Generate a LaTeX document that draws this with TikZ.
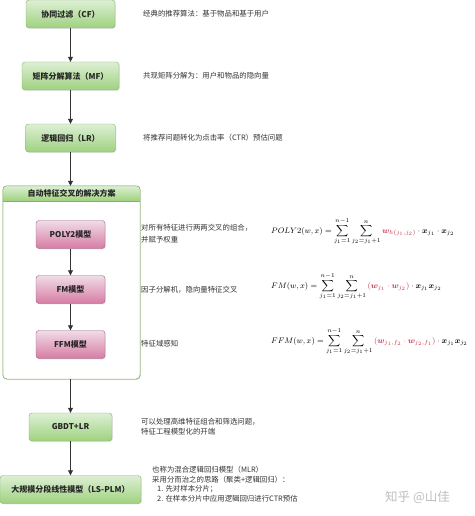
\documentclass[tikz,border=0pt]{standalone}
\usepackage{fontspec}
\usepackage{amsmath,bm}
\newfontfamily\cjk{Noto Sans CJK SC}
\usetikzlibrary{arrows.meta,shadows}
\definecolor{gtop}{HTML}{DDEFD5}
\definecolor{gbot}{HTML}{9FD27F}
\definecolor{gstroke}{HTML}{82B366}
\definecolor{ptop}{HTML}{F0DCE7}
\definecolor{pbot}{HTML}{D67CA3}
\definecolor{pstroke}{HTML}{996185}
\definecolor{desccol}{HTML}{333333}
\definecolor{wred}{HTML}{C8324A}
\tikzset{
  box/.style={rounded corners=3pt, inner sep=0pt, minimum height=28pt,
    font=\cjk\bfseries\fontsize{8}{9}\selectfont, text=black!85,
    drop shadow={opacity=0.2, shadow xshift=0.8pt, shadow yshift=-0.8pt}},
  gbox/.style={box, draw=gstroke, top color=gtop, bottom color=gbot},
  pbox/.style={box, draw=pstroke, top color=ptop, bottom color=pbot, minimum width=69pt},
  desc/.style={anchor=west, align=left, inner sep=0pt, text=desccol,
    font=\cjk\fontsize{7.4}{12}\selectfont},
  arr/.style={draw=black!80, line width=0.8pt, -{Triangle[width=5pt,length=5pt]}},
  fml/.style={anchor=base west, inner sep=0pt, font=\fontsize{8.5}{10}\selectfont}
}
\begin{document}
\begin{tikzpicture}[x=1pt,y=-1pt]
\useasboundingbox[fill=white] (0,0) rectangle (474,516);

% main boxes
\node[gbox, minimum width=89pt] (cf) at (70.5,14) {协同过滤（CF）};
\node[gbox, minimum width=97pt] (mf) at (70.5,76) {矩阵分解算法（MF）};
\node[gbox, minimum width=90pt] (lr) at (70.5,138) {逻辑回归（LR）};

% container
\node[draw=gstroke, fill=white, rounded corners=4pt, minimum width=137pt, minimum height=193pt, inner sep=0pt,
  drop shadow={opacity=0.2, shadow xshift=0.8pt, shadow yshift=-0.8pt}] (grp) at (71.5,282.5) {};
\begin{scope}
  \clip[rounded corners=4pt] (grp.north west) rectangle (grp.south east);
  \fill[top color=gtop, bottom color=gbot] (grp.north west) rectangle ([yshift=-15pt]grp.north east);
\end{scope}
\draw[gstroke, rounded corners=4pt] (grp.north west) rectangle (grp.south east);
\draw[gstroke] ([yshift=-15pt]grp.north west) -- ([yshift=-15pt]grp.north east);
\node[font=\cjk\bfseries\fontsize{8}{9}\selectfont, text=black!85] (hdr) at (71.5,193.5) {自动特征交叉的解决方案};

\node[pbox] (poly) at (70.5,234.5) {POLY2模型};
\node[pbox] (fm) at (70.5,289.5) {FM模型};
\node[pbox] (ffm) at (70.5,344.5) {FFM模型};

\node[gbox, minimum width=83pt] (gbdt) at (70.5,427) {GBDT+LR};
\node[gbox, minimum width=141pt] (plm) at (70.5,489.5) {大规模分段线性模型（LS-PLM）};

% arrows
\draw[arr] (cf) -- (mf);
\draw[arr] (mf) -- (lr);
\draw[arr] (lr) -- (lr |- grp.north);
\draw[arr] (poly) -- (fm);
\draw[arr] (fm) -- (ffm);
\draw[arr] (gbdt |- grp.south) -- (gbdt);
\draw[arr] (gbdt) -- (plm);

% descriptions
\node[desc] (d1) at (143,14) {经典的推荐算法：基于物品和基于用户};
\node[desc] (d2) at (143,76) {共现矩阵分解为：用户和物品的隐向量};
\node[desc] (d3) at (143,138) {将推荐问题转化为点击率（CTR）预估问题};
\node[desc] (d4) at (141,234) {对所有特征进行两两交叉的组合，\\并赋予权重};
\node[desc] (d5) at (141,290) {因子分解机，隐向量特征交叉};
\node[desc] (d6) at (141,344) {特征域感知};
\node[desc, font=\cjk\fontsize{7.4}{10}\selectfont] (d7) at (141,427) {可以处理高维特征组合和筛选问题，\\特征工程模型化的开端};
\node[desc, font=\cjk\fontsize{7.4}{9.5}\selectfont] (d8) at (152,484) {也称为混合逻辑回归模型（MLR）\\采用分而治之的思路（聚类+逻辑回归）：\\\hspace*{5pt}1. 先对样本分片；\\\hspace*{5pt}2. 在样本分片中应用逻辑回归进行CTR预估};

% formulas
\node[fml] (f1) at (271,233) {$\displaystyle POLY2(w,x)=\sum_{j_1=1}^{n-1}\sum_{j_2=j_1+1}^{n}{\color{wred}\bm{w}_{h(j_1,j_2)}}\cdot\bm{x}_{j_1}\cdot\bm{x}_{j_2}$};
\node[fml] (f2) at (271,288) {$\displaystyle FM(w,x)=\sum_{j_1=1}^{n-1}\sum_{j_2=j_1+1}^{n}{\color{wred}(\bm{w}_{j_1}\cdot\bm{w}_{j_2})}\cdot\bm{x}_{j_1}\bm{x}_{j_2}$};
\node[fml] (f3) at (271,343) {$\displaystyle FFM(w,x)=\sum_{j_1=1}^{n-1}\sum_{j_2=j_1+1}^{n}{\color{wred}(\bm{w}_{j_1,f_2}\cdot\bm{w}_{j_2,f_1})}\cdot\bm{x}_{j_1}\bm{x}_{j_2}$};

% watermark
\node[anchor=west, inner sep=0pt, text=black!25, font=\cjk\fontsize{12.5}{14}\selectfont] (wm) at (385,497) {知乎 @山佳};
\end{tikzpicture}
\end{document}
